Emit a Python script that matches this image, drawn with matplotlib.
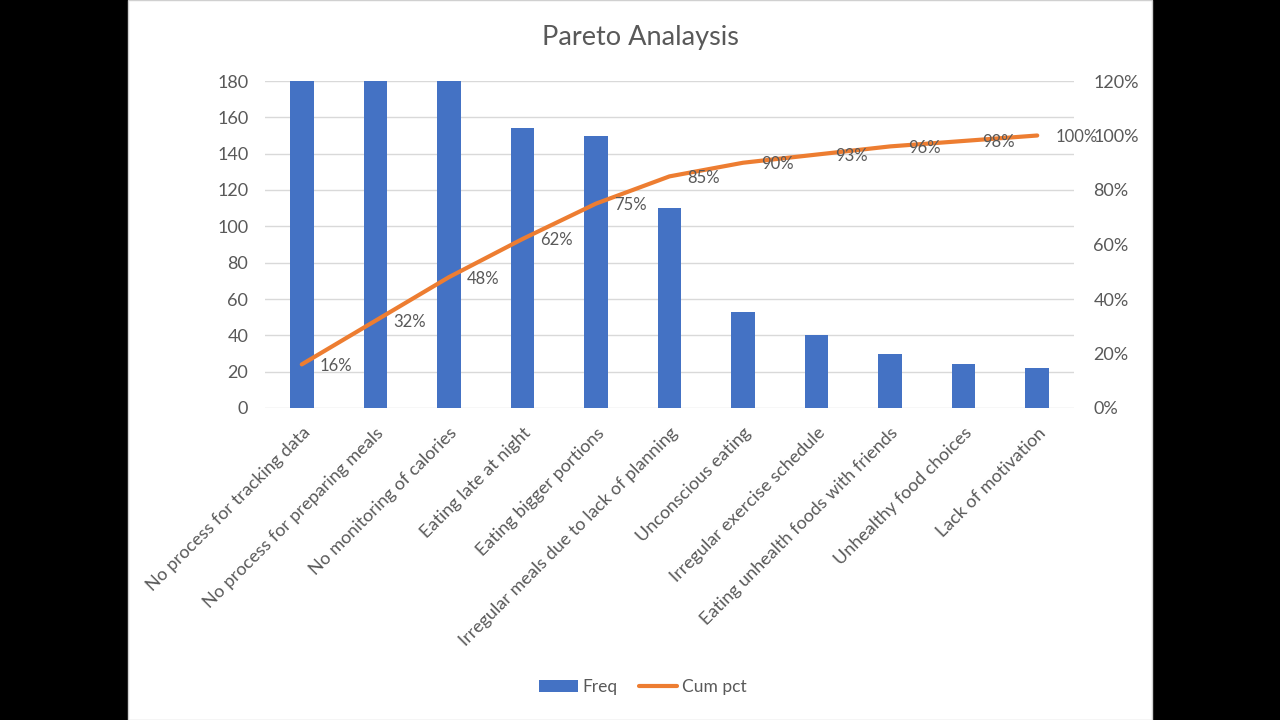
import matplotlib
matplotlib.use('Agg')
import matplotlib.pyplot as plt
from matplotlib.patches import Rectangle
from matplotlib.ticker import FuncFormatter, MultipleLocator

# data
causes = [
    'No process for tracking data',
    'No process for preparing meals',
    'No monitoring of calories',
    'Eating late at night',
    'Eating bigger portions',
    'Irregular meals due to lack of planning',
    'Unconscious eating',
    'Irregular exercise schedule',
    'Eating unhealth foods with friends',
    'Unhealthy food choices',
    'Lack of motivation',
]
freq = [180, 180, 180, 154, 150, 110, 53, 40, 30, 24, 22]
cum_pct = [0.16, 0.32, 0.48, 0.62, 0.75, 0.85, 0.90, 0.93, 0.96, 0.98, 1.00]

bar_color = '#4472C4'
line_color = '#ED7D31'
text_color = '#595959'
grid_color = '#D9D9D9'

plt.rcParams['font.family'] = ['Lato', 'DejaVu Sans']

fig = plt.figure(figsize=(12.8, 7.2), dpi=100)
fig.patch.set_facecolor('black')
# white slide area between the black side bands
fig.add_artist(Rectangle((128 / 1280, 0), 1024 / 1280, 1, transform=fig.transFigure,
                         facecolor='white', edgecolor='#d0d0d0', lw=1, zorder=-1))

ax = fig.add_axes([265 / 1280, 1 - 408 / 720, 809 / 1280, 327 / 720])
ax.set_facecolor('none')
x = list(range(len(causes)))

ax.bar(x, freq, width=0.32, color=bar_color, zorder=2, label='Freq')
ax.set_xlim(-0.5, len(causes) - 0.5)
ax.set_ylim(0, 180)
ax.yaxis.set_major_locator(MultipleLocator(20))
ax.grid(axis='y', color=grid_color, lw=1, zorder=0)
for s in ax.spines.values():
    s.set_visible(False)
ax.tick_params(axis='both', length=0, colors=text_color, labelsize=13)
ax.tick_params(axis='y', pad=12)
ax.set_xticks(x)
ax.set_xticklabels(causes, rotation=45, ha='right', rotation_mode='anchor')
ax.tick_params(axis='x', pad=12)

ax2 = ax.twinx()
ax2.plot(x, cum_pct, color=line_color, lw=3, solid_capstyle='round', zorder=3, label='Cum pct')
ax2.set_ylim(0, 1.2)
ax2.yaxis.set_major_locator(MultipleLocator(0.2))
ax2.yaxis.set_major_formatter(FuncFormatter(lambda v, p: f'{v * 100:.0f}%'))
for s in ax2.spines.values():
    s.set_visible(False)
ax2.tick_params(axis='y', length=0, colors=text_color, labelsize=13, pad=14)

for xi, v in zip(x, cum_pct):
    ax2.annotate(f'{v * 100:.0f}%', (xi, v), xytext=(13, -1), textcoords='offset points',
                 ha='left', va='center', fontsize=12, color=text_color)

fig.text(640 / 1280, 1 - 38 / 720, 'Pareto Analaysis', ha='center', va='center',
         fontsize=19.5, color=text_color)

h1, l1 = ax.get_legend_handles_labels()
h2, l2 = ax2.get_legend_handles_labels()
fig.legend(h1 + h2, l1 + l2, loc='center', bbox_to_anchor=(643 / 1280, 1 - 687 / 720),
           ncol=2, frameon=False, fontsize=12.5, labelcolor=text_color,
           handlelength=2.2, handletextpad=0.3, columnspacing=1.2)

fig.savefig('out.png', dpi=100, facecolor=fig.get_facecolor())
